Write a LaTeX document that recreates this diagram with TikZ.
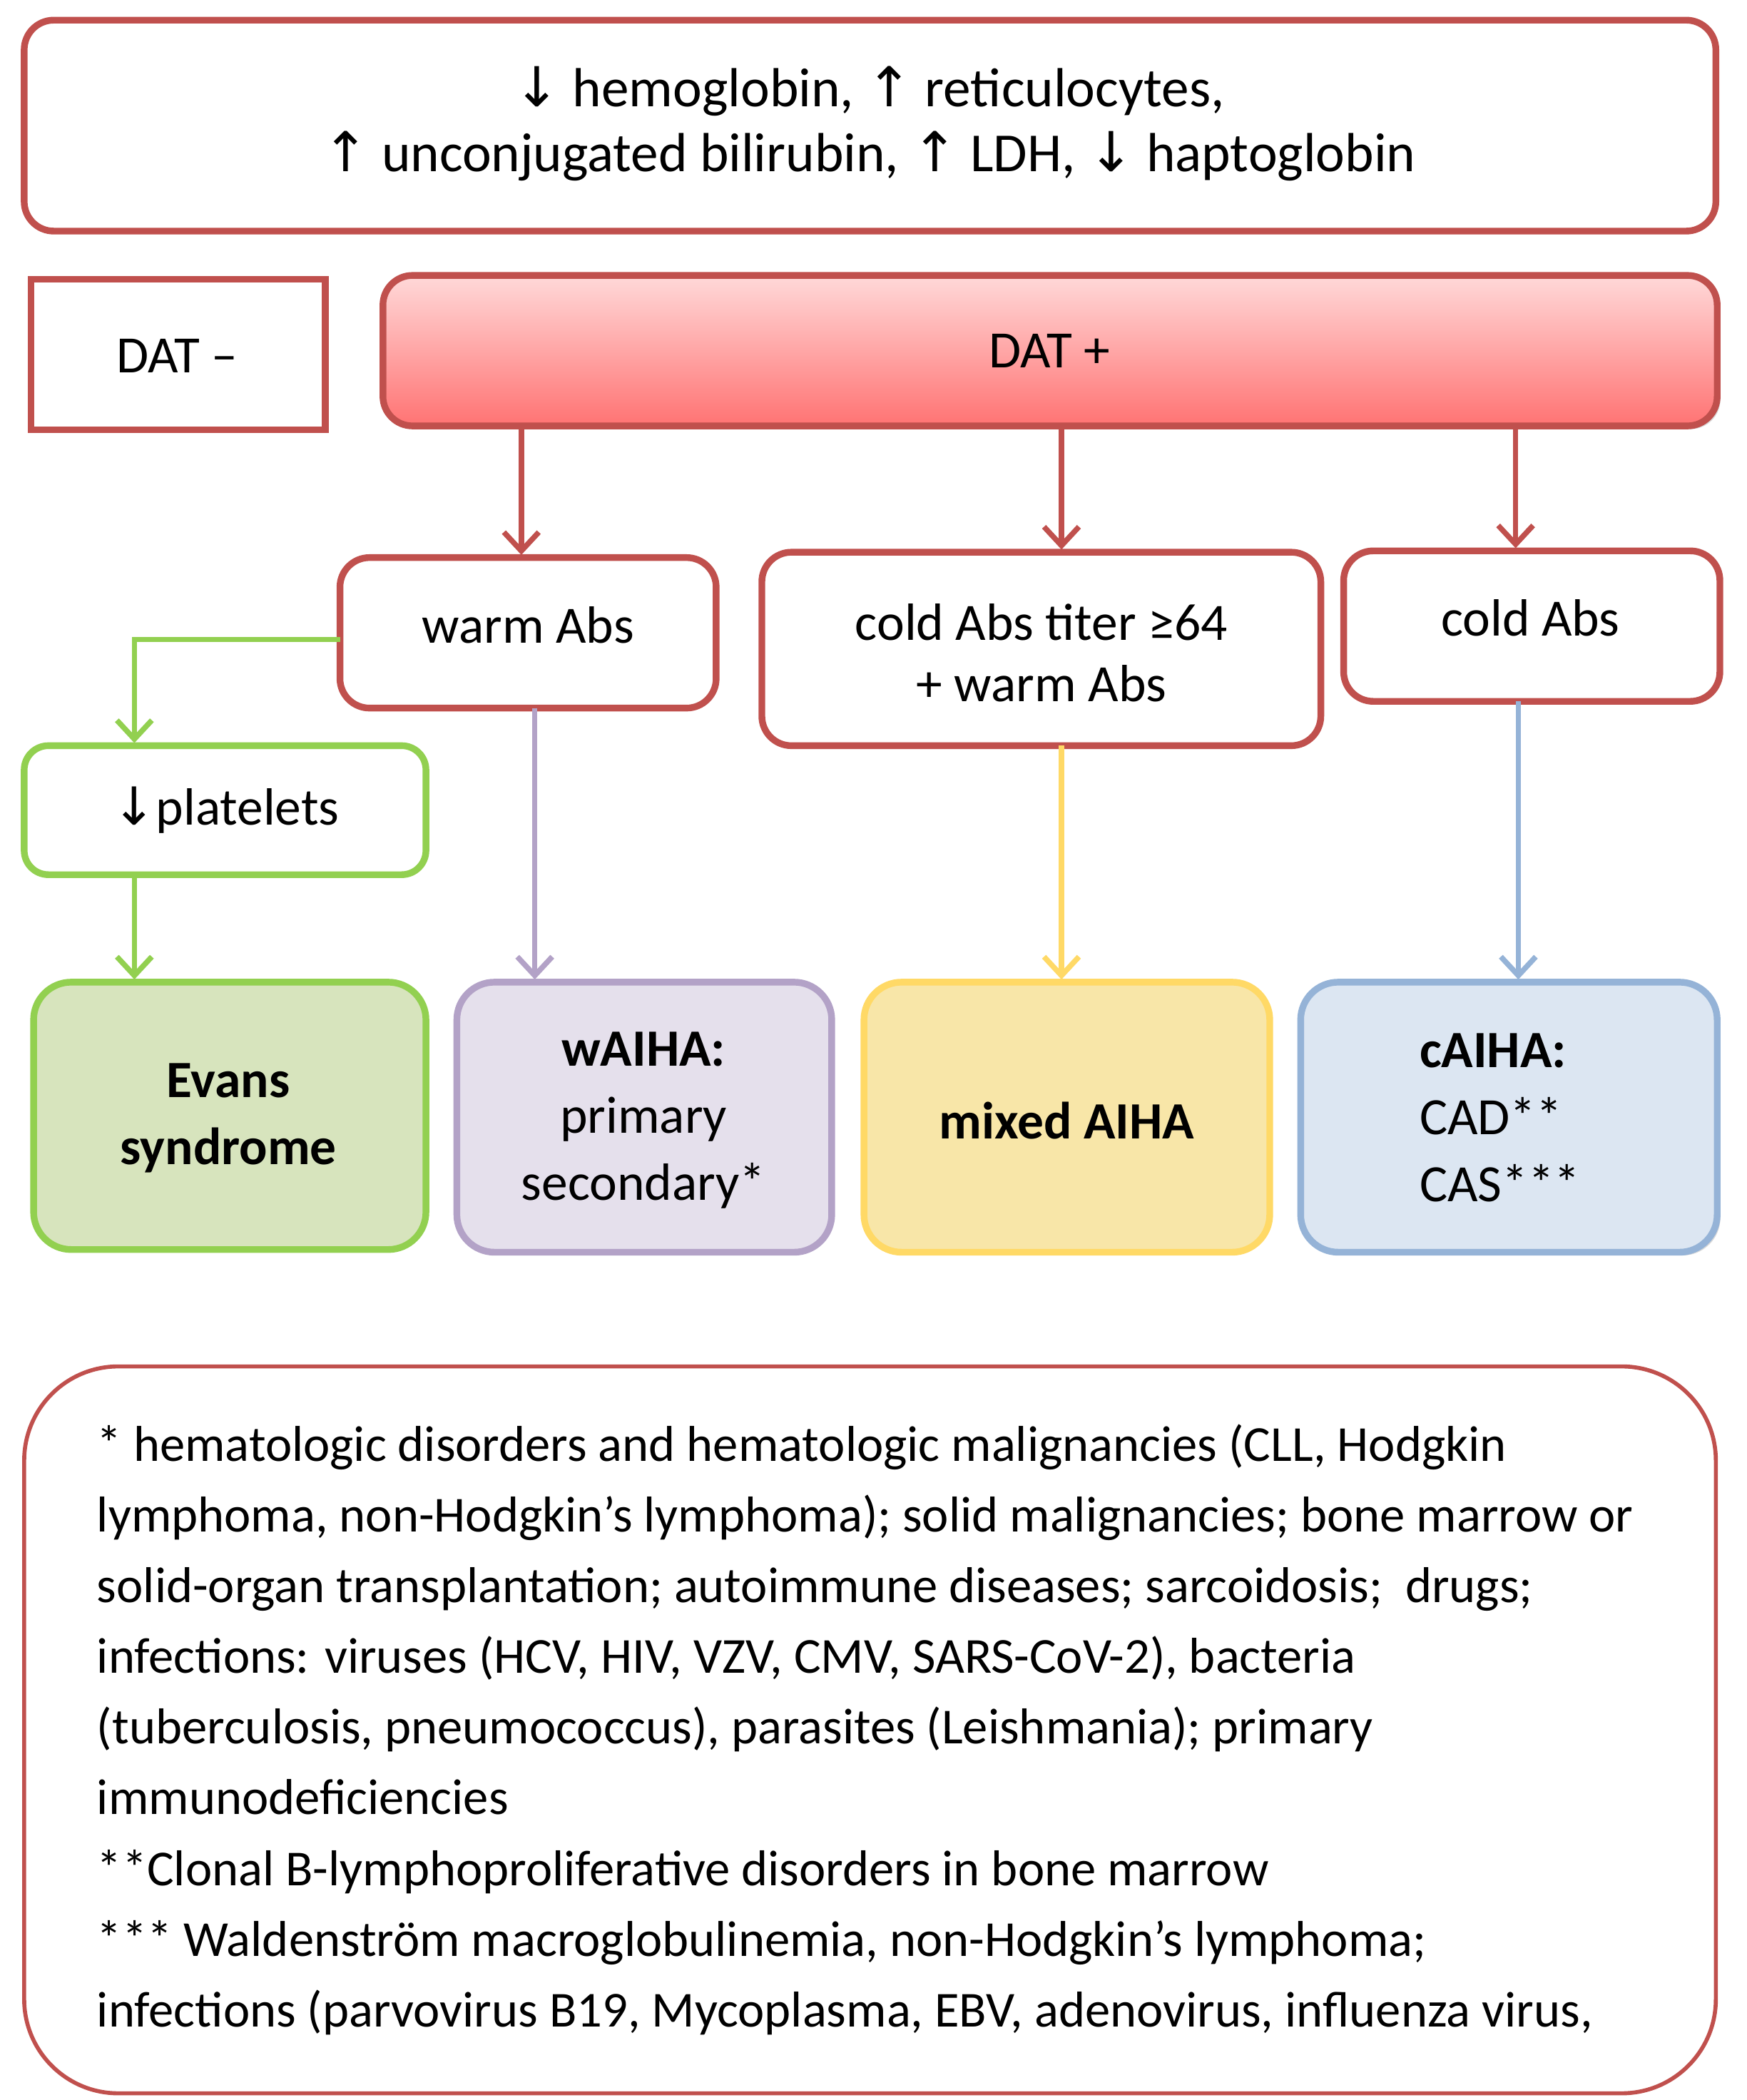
\documentclass[tikz,border=0pt]{standalone}
\usepackage{fontspec}
\setmainfont{Carlito}
\newfontfamily\arrf{DejaVu Sans}
\newcommand{\dn}{{\arrf ↓}}
\newcommand{\up}{{\arrf ↑}}
\usetikzlibrary{arrows.meta,shadows}
\definecolor{rd}{HTML}{C0504D}
\definecolor{gr}{HTML}{92D050}
\definecolor{grf}{HTML}{D7E4BD}
\definecolor{pu}{HTML}{B3A2C7}
\definecolor{puf}{HTML}{E5E0EC}
\definecolor{ye}{HTML}{FFD966}
\definecolor{yef}{HTML}{F8E6A8}
\definecolor{bl}{HTML}{95B3D7}
\definecolor{blf}{HTML}{DCE6F2}
\begin{document}
\begin{tikzpicture}[x=1pt,y=-1pt,
  font=\fontsize{39}{46}\selectfont,
  box/.style={draw=rd,line width=5pt,rounded corners=22pt},
  res/.style={line width=5pt,rounded corners=28pt},
  arr/.style={line width=4pt,-{Straight Barb[length=14pt,width=26pt,line width=4pt]}}]
\useasboundingbox (0,0) rectangle (1300,1563);
\draw[box] (18,15) rectangle (1277,172);
\node[align=center,font=\fontsize{41}{48}\selectfont] (top) at (647,92) {\dn{} hemoglobin, \up{} reticulocytes,\\[0pt]\up{} unconjugated bilirubin, \up{} LDH, \dn{} haptoglobin};
\draw[draw=rd,line width=5pt] (23,208) rectangle (242,320);
\node (datm) at (132,265) {DAT –};
\draw[box,top color=red!15,bottom color=red!55!white,drop shadow={opacity=0.3}] (285,205) rectangle (1278,317);
\node (datp) at (781,261) {DAT +};
\draw[box,fill=white] (253,415) rectangle (533,527);
\node (warm) at (393,465) {warm Abs};
\draw[box,fill=white] (567,411) rectangle (983,555);
\node[align=center] (mixa) at (775,486) {cold Abs titer ≥64\\[0pt]+ warm Abs};
\draw[box,fill=white] (1000,410) rectangle (1280,522);
\node (cold) at (1139,460) {cold Abs};
\draw[draw=gr,line width=5pt,rounded corners=18pt] (18,555) rectangle (317,651);
\node (plt) at (168,603) {\dn{}platelets};
\draw[res,draw=gr,fill=grf] (25,731) rectangle (317,930);
\node[align=center,font=\fontsize{39}{50}\selectfont\bfseries] (ev) at (170,832) {Evans\\syndrome};
\draw[res,draw=pu,fill=puf] (340,731) rectangle (619,932);
\node[align=center,font=\fontsize{39}{50}\selectfont] (wa) at (479,834) {\textbf{wAIHA:}\\primary\\secondary*};
\draw[res,draw=ye,fill=yef] (643,731) rectangle (945,932);
\node[font=\fontsize{39}{46}\selectfont\bfseries] (ma) at (794,834) {mixed AIHA};
\draw[res,draw=bl,fill=blf,drop shadow={opacity=0.3}] (968,731) rectangle (1278,932);
\node[align=left,anchor=west,font=\fontsize{39}{50}\selectfont] (ca) at (1053,832) {\textbf{cAIHA:}\\CAD**\\CAS***};
% arrows
\draw[arr,draw=rd] (388,317) -- (388,413);
\draw[arr,draw=rd] (790,317) -- (790,409);
\draw[arr,draw=rd] (1128,317) -- (1128,408);
\draw[arr,draw=gr] (253,476) -- (100,476) -- (100,553);
\draw[arr,draw=gr] (100,651) -- (100,729);
\draw[arr,draw=pu] (398,527) -- (398,729);
\draw[arr,draw=ye] (790,555) -- (790,729);
\draw[arr,draw=bl] (1130,522) -- (1130,729);
% footnote
\begin{scope}
\clip[rounded corners=70pt] (18,1017) rectangle (1277,1558);
\node[anchor=north west,align=left,font=\fontsize{37.5}{52.6}\selectfont,inner sep=0pt] (fn) at (72,1060) {* hematologic disorders and hematologic malignancies (CLL, Hodgkin\\
lymphoma, non-Hodgkin’s lymphoma); solid malignancies; bone marrow or\\
solid-organ transplantation; autoimmune diseases; sarcoidosis;\ \ drugs;\\
infections: viruses (HCV, HIV, VZV, CMV, SARS-CoV-2), bacteria\\
(tuberculosis, pneumococcus), parasites (Leishmania); primary\\
immunodeficiencies\\
**Clonal B-lymphoproliferative disorders in bone marrow\\
*** Waldenström macroglobulinemia, non-Hodgkin’s lymphoma;\\
infections (parvovirus B19, Mycoplasma, EBV, adenovirus, influenza virus,};
\end{scope}
\draw[draw=rd,line width=3pt,rounded corners=70pt] (18,1017) rectangle (1277,1558);
\end{tikzpicture}
\end{document}
